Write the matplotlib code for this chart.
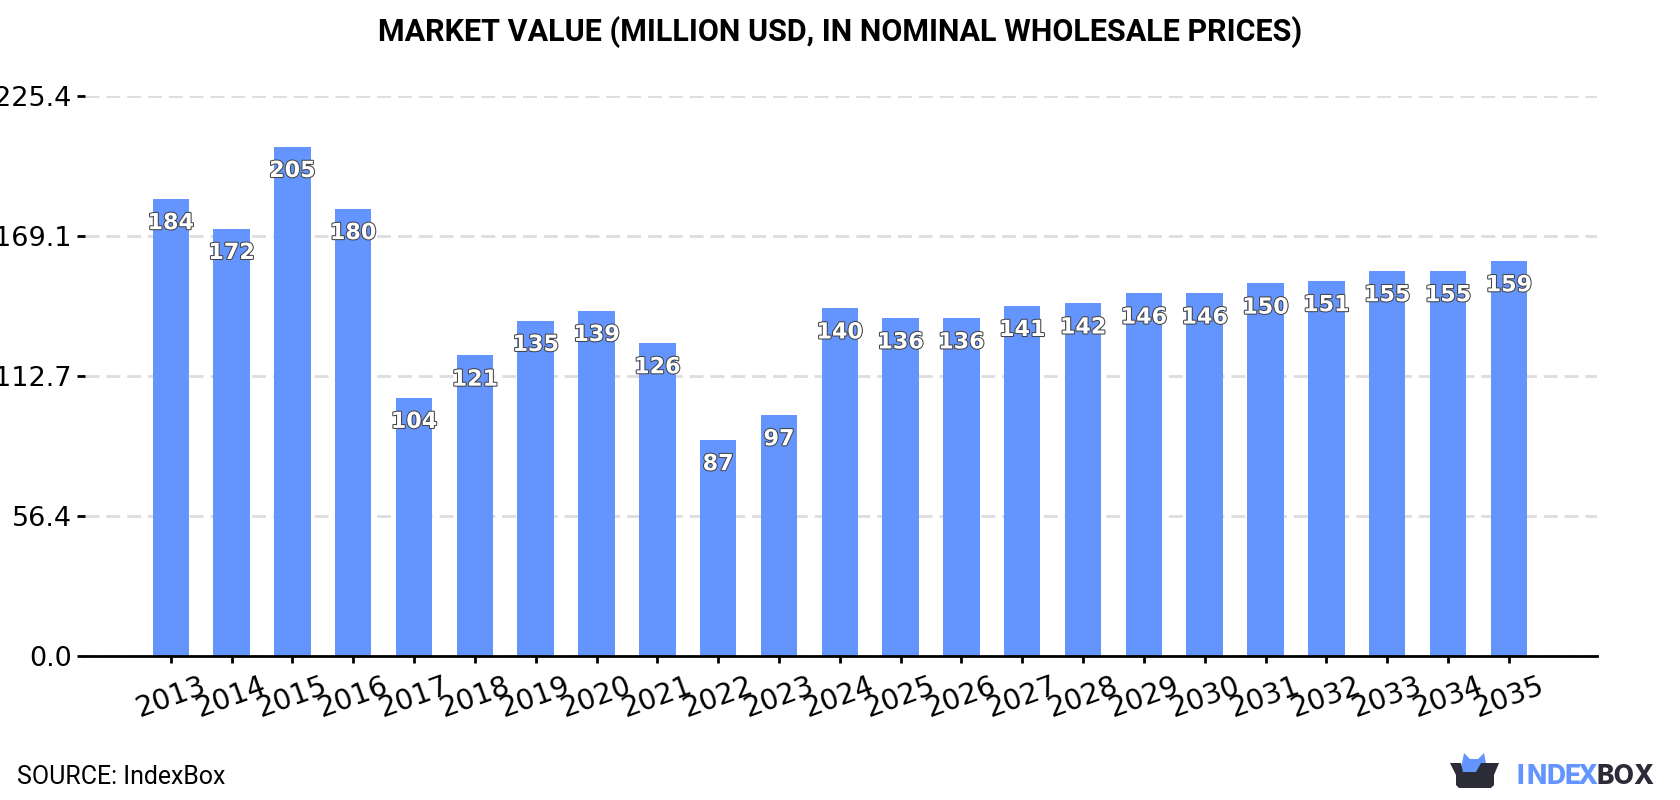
import matplotlib
matplotlib.use("Agg")
import matplotlib.pyplot as plt
import matplotlib.patheffects as pe
from matplotlib.patches import Polygon

years = list(range(2013, 2036))
values = [184, 172, 205, 180, 104, 121, 135, 139, 126, 87, 97, 140,
          136, 136, 141, 142, 146, 146, 150, 151, 155, 155, 159]
y_ticks = [0.0, 56.4, 112.7, 169.1, 225.4]

BLUE = "#6495ff"
DARK = "#2b2c38"
W, H = 1680, 800

fig = plt.figure(figsize=(16.8, 8), dpi=100)
ax = fig.add_axes([85 / W, 1 - 656 / H, (1597 - 85) / W, (656 - 96) / H])

ax.bar(years, values, width=0.6, color=BLUE, zorder=2)

# value labels sit just inside the top of each bar
for year, val in zip(years, values):
    ax.annotate(str(val), (year, val), xytext=(0, -17.5), textcoords="offset points",
                ha="center", va="center", fontsize=16, fontweight="bold", color="white",
                zorder=3, path_effects=[pe.withStroke(linewidth=1.5, foreground="#444444")])

ax.set_xlim(2013 - 1.41, 2013 + 23.45)
ax.set_ylim(0, 225.4)
ax.set_yticks(y_ticks)
ax.set_yticklabels([f"{t:.1f}" for t in y_ticks], fontsize=19.5)
ax.set_xticks(years)
ax.set_xticklabels(years, fontsize=20.5, rotation=20, ha="center")
ax.tick_params(axis="y", length=5.5, width=2, pad=4)
ax.tick_params(axis="x", length=5, width=2, pad=6)

ax.grid(axis="y", color="#dddddd", linewidth=2, linestyle=(0, (5, 2.5)), zorder=1)
ax.set_axisbelow(True)
for side in ["top", "right", "left"]:
    ax.spines[side].set_visible(False)
ax.spines["bottom"].set_linewidth(2)

fig.text(0.5, 1 - 32 / H, "MARKET VALUE (MILLION USD, IN NOMINAL WHOLESALE PRICES)",
         ha="center", va="center", fontsize=22, fontweight="bold", family="Roboto")
fig.text(17 / W, 1 - 777 / H, "SOURCE: IndexBox", ha="left", va="center",
         fontsize=17.9, family="Roboto")

# logo: a dark box with a blue crown poking out
logo = fig.add_axes([0, 0, 1, 1], facecolor="none")
logo.set_xlim(0, W)
logo.set_ylim(H, 0)
logo.axis("off")
logo.add_patch(Polygon([[1461, 768], [1464, 753], [1470, 759], [1478, 759], [1484, 753],
                        [1487, 768], [1477, 772], [1474, 773], [1463, 773]],
                       closed=True, color=BLUE, lw=0))
logo.add_patch(Polygon([[1450, 763], [1461, 763], [1463, 772], [1476, 772], [1481, 763],
                        [1499, 763], [1494, 775], [1494, 785], [1491, 788], [1459, 788],
                        [1456, 785], [1456, 775]],
                       closed=True, color=DARK, lw=0))
# wordmark is letter-spaced, so place each letter on its own
for letter, x in zip("INDEX", [1517, 1526, 1546, 1565, 1577]):
    logo.text(x, 777, letter, color=BLUE, fontsize=19, fontweight="heavy",
              family="Inter", ha="left", va="center")
logo.text(1596, 777, "BOX", color=DARK, fontsize=19, fontweight="heavy",
          family="Inter", ha="left", va="center")

fig.savefig("out.png", dpi=100)
plt.close(fig)
